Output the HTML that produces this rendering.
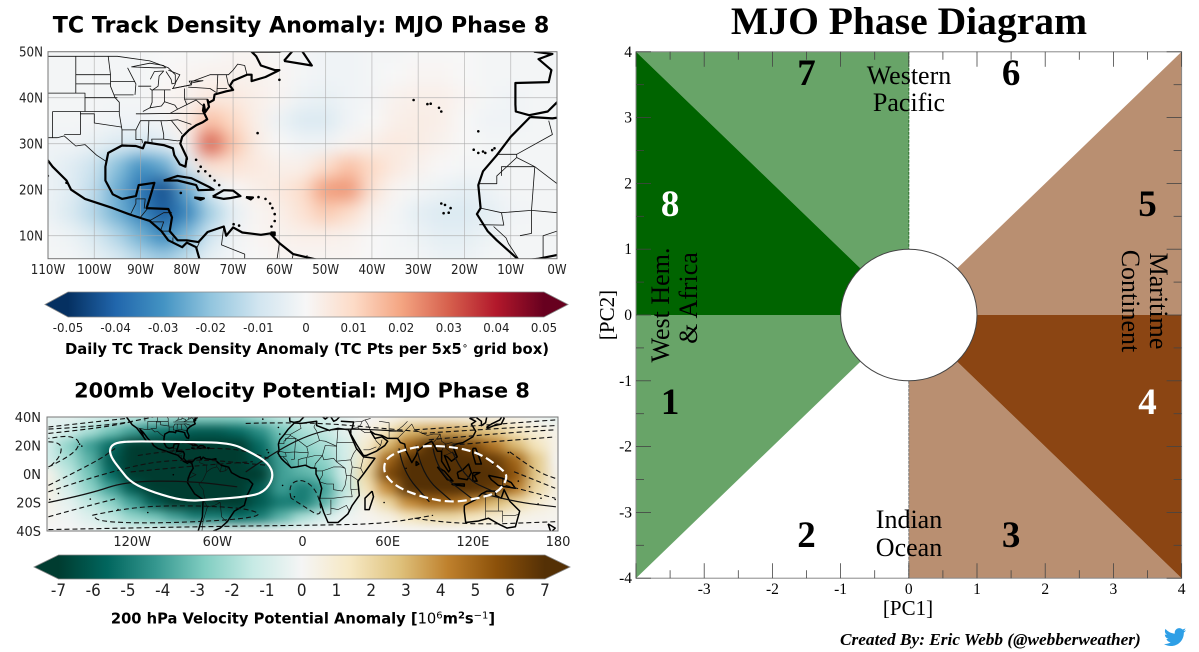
<!DOCTYPE html>
<html lang="en">
<head>
<meta charset="utf-8">
<title>MJO Phase 8 Composite</title>
<style>
html,body{margin:0;padding:0;background:#fff;}
svg{display:block;}
.dj{font-family:"DejaVu Sans",sans-serif;}
.sr{font-family:"Liberation Serif",serif;}
</style>
</head>
<body>
<svg id="figure" xmlns="http://www.w3.org/2000/svg" width="1199" height="652" viewBox="0 0 1199 652">
  <defs>
    <clipPath id="clip-tc"><rect x="48" y="51.7" width="509" height="207"/></clipPath>
    <clipPath id="clip-vp"><rect x="47" y="417" width="511" height="114"/></clipPath>
    <filter id="blur-tc" filterUnits="userSpaceOnUse" x="-100" y="-50" width="800" height="450" color-interpolation-filters="sRGB"><feGaussianBlur stdDeviation="9 8"/></filter>
    <filter id="blur-vp" filterUnits="userSpaceOnUse" x="-100" y="350" width="800" height="260" color-interpolation-filters="sRGB"><feGaussianBlur stdDeviation="7 5"/></filter>
    <linearGradient id="grad-tc" x1="0" x2="1" y1="0" y2="0"></linearGradient>
    <linearGradient id="grad-vp" x1="0" x2="1" y1="0" y2="0"></linearGradient>
  </defs>
  <rect width="1199" height="652" fill="#fff"/>

  <text class="dj" x="301" y="32.5" font-size="22.2" font-weight="700" text-anchor="middle">TC Track Density Anomaly: MJO Phase 8</text>
  <g id="tc-map"></g>
  <g id="tc-bar"></g>
  <text class="dj" x="307" y="354" font-size="14.8" font-weight="700" text-anchor="middle">Daily TC Track Density Anomaly (TC Pts per 5x5<tspan dy="-5" font-size="10" font-weight="400">∘</tspan><tspan dy="5"> grid box)</tspan></text>

  <text class="dj" x="302" y="397.5" font-size="20.8" font-weight="700" text-anchor="middle">200mb Velocity Potential: MJO Phase 8</text>
  <g id="vp-map"></g>
  <g id="vp-bar"></g>
  <text class="dj" x="303" y="623.5" font-size="14.7" font-weight="700" text-anchor="middle">200 hPa Velocity Potential Anomaly [<tspan font-weight="400">10</tspan><tspan dy="-5" font-size="10" font-weight="400">6</tspan><tspan dy="5">m</tspan><tspan dy="-5" font-size="10">2</tspan><tspan dy="5">s</tspan><tspan dy="-5" font-size="10" font-weight="400">−1</tspan><tspan dy="5">]</tspan></text>

  <text class="sr" x="909" y="34" font-size="39.6" font-weight="700" text-anchor="middle">MJO Phase Diagram</text>
  <g id="phase"></g>

  <g class="sr" font-size="26" text-anchor="middle" fill="#000">
    <text x="909" y="84">Western</text>
    <text x="909" y="111">Pacific</text>
    <text x="909" y="528">Indian</text>
    <text x="909" y="556">Ocean</text>
    <text transform="translate(669,305) rotate(-90)">West Hem.</text>
    <text transform="translate(697,298) rotate(-90)">&amp; Africa</text>
    <text transform="translate(1150,301) rotate(90)">Maritime</text>
    <text transform="translate(1122,301) rotate(90)">Continent</text>
  </g>
  <text class="sr" x="908" y="615" font-size="21" text-anchor="middle">[PC1]</text>
  <text class="sr" transform="translate(614,315) rotate(-90)" font-size="21" text-anchor="middle">[PC2]</text>
  <text class="sr" x="840" y="645" font-size="17.3" font-weight="700" font-style="italic">Created By: Eric Webb (@webberweather)</text>
  <path transform="translate(1164,626) scale(0.92)" fill="#2e9fe6" d="M23.954 4.569c-.885.389-1.83.654-2.825.775 1.014-.611 1.794-1.574 2.163-2.723-.951.555-2.005.959-3.127 1.184-.896-.959-2.173-1.559-3.591-1.559-2.717 0-4.92 2.203-4.92 4.917 0 .39.045.765.127 1.124C7.691 8.094 4.066 6.13 1.64 3.161c-.427.722-.666 1.561-.666 2.475 0 1.71.87 3.213 2.188 4.096-.807-.026-1.566-.248-2.228-.616v.061c0 2.385 1.693 4.374 3.946 4.827-.413.111-.849.171-1.296.171-.314 0-.615-.03-.916-.086.631 1.953 2.445 3.377 4.604 3.417-1.68 1.319-3.809 2.105-6.102 2.105-.39 0-.779-.023-1.17-.067 2.189 1.394 4.768 2.209 7.557 2.209 9.054 0 13.999-7.496 13.999-13.986 0-.209 0-.42-.015-.63.961-.689 1.8-1.56 2.46-2.548l-.047-.02z"/>
</svg>
<script>
/* ---------- TC track density data (values x 0.001) ---------- */
const tcLons = [-110,-105,-100,-95,-90,-85,-80,-75,-70,-65,-60,-55,-50,-45,-40,-35,-30,-25,-20,-15,-10,-5,0];
const tcLats = [50,45,40,35,30,25,20,15,10,5];
const tcValues = [
 [-1,-1,-1,-1,-1,0,0,0,1,1,0,-1,-2,-2,-1,-1,0,0,0,-1,-1,-1,-1],
 [-1,-1,-1,-1,-1,0,1,2,2,2,1,-1,-2,-2,-1,0,1,1,0,-1,-1,-1,-1],
 [-1,-1,-1,-1,-1,1,2,5,5,3,1,-3,-4,-2,-1,2,3,3,1,-1,-2,-1,-1],
 [-1,-1,-1,-2,-2,-1,4,15,10,3,-3,-7,-7,-2,0,3,4,3,0,-2,-2,-1,-1],
 [-2,-2,-4,-7,-9,-6,1,30,14,4,0,-2,-2,1,3,5,4,2,0,-1,-1,-1,-1],
 [-3,-6,-11,-21,-31,-26,-7,7,7,5,3,3,9,15,10,5,2,0,-1,-1,-1,-1,-1],
 [-3,-6,-13,-25,-36,-44,-26,-7,0,3,5,9,21,22,7,1,-1,-3,-5,-3,-1,-1,-1],
 [-3,-8,-15,-24,-33,-42,-33,-17,-5,1,3,7,13,9,2,-1,-5,-7,-7,-5,-2,-1,-1],
 [-1,-3,-8,-15,-24,-32,-22,-10,-2,1,2,3,3,2,0,-1,-3,-5,-5,-3,-1,-1,-1],
 [-1,-1,-4,-8,-14,-18,-12,-4,-1,0,1,1,1,1,0,-1,-1,-3,-3,-1,-1,-1,-1]
];
/* ---------- 200 hPa velocity potential data (10^6 m2/s) ---------- */
const vpLons = [-180,-165,-150,-135,-120,-105,-90,-75,-60,-45,-30,-15,0,15,30,45,60,75,90,105,120,135,150,165,180];
const vpLats = [40,30,20,10,0,-10,-20,-30,-40];
const vpValues = [
 [-0.5,-0.5,-0.8,-1,-1.5,-2,-2,-2.5,-2.5,-2.5,-2,-1.5,-1,-1,-0.5,0,0.2,0.5,0.5,0.5,0.5,0.5,0.3,-0.2,-0.5],
 [-0.5,-1,-2,-3,-4,-5,-5.5,-6,-6,-5.5,-4.5,-3,-2,-1.5,-0.5,0.5,1.5,3,3.5,3.5,3,2.5,1.5,0.8,0.3],
 [-1,-2.5,-4,-5.5,-7,-8,-8,-8,-8,-7,-5.5,-3.5,-2.5,-2,-1,1,3,5,7,7,6,4.5,3,1.5,0.3],
 [-1,-2,-3.5,-6,-8,-9,-9,-9,-9,-8,-6,-4,-3,-2.5,-1,1.5,5,8,9,9,8,6.5,5,2.5,0],
 [0.3,-1.5,-3,-5.5,-8,-9,-9,-9,-9,-8.5,-7,-4,-3.5,-3,-1,2,6,9,9,9,9,7.5,5.5,2.5,0.2],
 [0.5,-1,-2.5,-4,-6,-8,-9,-9,-9,-8,-6,-4,-5,-4,-1.5,1.5,4,7,9,9,8,6.5,4.5,2,0.5],
 [0.3,-0.5,-1.5,-2.5,-4,-6,-7,-8,-8,-7.5,-6,-5,-5,-3.5,-1,0.5,2,4,5,5,4,3,2,1,0.3],
 [0.2,-0.2,-0.8,-1.5,-2.5,-3,-4,-5,-5,-5.5,-5,-3.5,-2,-1,-0.3,0.2,0.5,1.5,2,2,1.5,1,0.5,0.3,0.2],
 [0,0,-0.2,-0.5,-0.5,-0.5,-0.5,-0.5,-0.5,-0.5,-0.3,-0.2,0,0,0,0,0,0,0,0,0,0,0,0,0]
];
/* ---------- contour levels traced in lon/lat ---------- */
const vpSolidContours = [
 [[-179,-20],[-150,-14],[-124,-5],[-78,-5],[-46,-9]],
 [[-40,1.4],[-16,18],[11,30],[30,32],[71,30]],
 [[68,18],[70.5,1.6],[89.4,-19.5]],
 [[80,20],[84,-0.8],[105.6,-19.5]],
 [[92,18],[95,1.6],[119,-17]],
 [[105.6,15.6],[113.7,-3],[135,-12.5]],
 [[127,-13.7],[149,-19.5],[178.5,-23]]
];
const vpDashedContours = [
 [[-179,33],[-124,39]],
 [[-179,31.5],[-135,34],[-105,40]],
 [[-179,28.5],[-145,32],[-120,36.6]],
 [[-179,22.6],[-170,22.6],[-170,13],[-179,4]],
 [[-179,5],[-162,13],[-156,22.6],[-164,27],[-179,25]],
 [[-179,-8],[-145,8.6],[-132,18]],
 [[-179,-12.5],[-124,6],[-78,11],[-24,6]],
 [[-116,13],[-83,18],[-46,18],[-24,11]],
 [[-121,1.5],[-73,6],[-35,8.6]],
 [[-148,-29],[-121,-23],[-78,-22],[-40,-24],[-27,-29],[-51,-32.4],[-105,-34.7],[-143,-33.5],[-148,-29]],
 [[-179,-30],[-150,-22],[-130,-17]],
 [[-179,-39],[-78,-37],[3,-36],[57,-35],[92,-29]],
 [[-8,-17],[-10.5,-8],[0,-3],[11,-12.5],[14,-31],[0,-22],[-8,-17]],
 [[-40,35.5],[3,36.6],[57,32],[84,29.6]],
 [[79,31],[125,34],[178,38]],
 [[84,28.5],[138,32],[178,34]],
 [[89,24],[138,28.5],[178,31]],
 [[105,20.3],[151,24],[178,26]],
 [[146,15.6],[165,1.6],[178,-3]],
 [[149,1.6],[178,-10]],
 [[143,-8],[178,-17]],
 [[79,-31],[111,-36],[178,-33.5]]
];
const vpNegativeCore = [[-136,18],[-132,22],[-119,23],[-86,22.5],[-51,22],[-37,15.5],[-24,8],[-20,-2],[-27,-13],[-40,-16],[-65,-18],[-83,-19],[-105,-13],[-121,-6],[-129,4],[-135,12]];
const vpPositiveCore = [[57,5],[60,12],[71,17],[87,20],[106,19],[124,15],[140,4],[145,-2],[138,-13],[124,-17],[106,-20],[87,-17],[68,-10],[59,-2]];

/* ---------- geography in lon/lat ---------- */
const coastlines = [
 [[-56,51.5],[-60,50],[-66,50],[-65,49],[-64,47],[-61,46],[-60,46],[-63,44.5],[-66,43.6],[-66,45],[-67,45],[-70,43.7],[-70.7,42.6],[-70,41.7],[-71.5,41.4],[-74,40.7],[-74.2,39.5],[-75.3,38.9],[-75.5,39.5],[-75.2,38],[-76,36.9],[-76.3,38.5],[-76.5,37.2],[-75.6,35.3],[-76.5,34.7],[-78,34],[-79.5,33],[-81,31.5],[-81.4,30],[-80,27],[-80.3,25],[-81.5,25.5],[-82.7,27.5],[-83,29],[-85,29.7],[-89,30.3],[-89.5,29],[-91,29.5],[-94,29.6],[-97,28],[-97.6,25],[-97.6,22],[-96,19],[-94,18],[-91,18.6],[-90.4,21],[-87,21.5],[-88,18.2],[-88.7,16],[-84,15.8],[-83.2,14],[-83.7,11],[-82,9],[-80,9],[-77.5,8.6],[-75.5,10.8],[-72,12],[-71.5,10],[-70,11.8],[-68,10.7],[-64,10.2],[-62,10.5],[-60,8.4],[-57,6],[-52,4.8],[-50,1],[-44,-2.3],[-38,-4],[-35,-7],[-39,-15],[-41,-22],[-48,-26],[-53,-33.5],[-58,-38],[-65,-41],[-68,-50]],
 [[-125,50],[-124,48],[-124,40],[-120,34.5],[-117,32.5],[-115,30],[-112,26],[-110,23],[-112,26],[-113,29],[-114.5,31.5],[-112,29],[-109,25],[-106,22],[-105,20],[-102,18],[-96,16],[-92,14.5],[-88,13.2],[-85.5,11],[-84,9],[-81,7.5],[-80,8.5],[-78,7.5],[-77,4],[-79,1],[-80.5,-3],[-81,-6],[-76,-14],[-70,-18],[-70.5,-30],[-73.5,-40],[-74,-50]],
 [[-59,48],[-56,51.5],[-53,47],[-59,48]],
 [[-5,50],[-1,49.5],[-4,48.4],[-1.2,46],[-1.8,43.4],[-9,43.2],[-9,38.5],[-8.9,37],[-6,36.2],[-2,37],[0,39],[3,42],[8,44],[12,42],[16,38.5],[18,40],[14,45],[20,40],[22,37],[24,38],[26,40],[29,41],[41,41]],
 [[-5.8,35.8],[-10,31.5],[-13,27.5],[-16,24],[-17,21],[-16.5,16],[-17.3,14.7],[-15,11],[-13,9],[-8,4.5],[-4,5],[2,6.2],[6,4.3],[9.5,4],[9.5,0],[12,-5],[13.5,-10],[12,-18],[15,-27],[18,-34],[25,-34],[32,-28],[35,-22],[40,-15],[39,-5],[43,0],[51,11],[43,12],[38,18],[34,27],[32.5,31],[25,32],[20,31],[19,30.5],[10,34],[10,37],[-1,35.5],[-5.8,35.8]],
 [[27,37],[36,36.5],[35,32],[34,31],[34,28],[38,21],[43,13],[45,13],[52,16],[58,20],[60,23],[56,26],[51,25],[48,30],[51,28],[56,27],[60,25],[67,25],[69,22],[72,21],[73,16],[77,8],[80,13],[81,16],[87,21],[91,23],[94,18],[95,16],[98,16],[98,9],[100,6],[103,1.5],[104,3],[100,13],[102,12],[105,9],[109,12],[106,19],[108,21],[113,22],[120,26],[122,30],[119,35],[122,37],[118,39],[122,40],[126,37],[126,34],[129,36],[130,41]],
 [[130,32],[135,34],[140,35],[142,39],[141,41],[139,38],[133,35],[130,33],[130,32]],
 [[120,18],[122,18],[124,13],[126,7],[122,7],[120,14],[120,18]],
 [[109,1],[113,3],[117,7],[119,1],[116,-4],[110,-3],[109,1]],
 [[95,5],[100,2],[106,-5],[102,-4],[95,5]],
 [[105,-7],[114,-7],[114,-8.5],[106,-7.5],[105,-7]],
 [[120,1],[125,1],[121,-1],[123,-5],[120,-5],[120,1]],
 [[131,-1],[141,-3],[147,-6],[150,-10],[143,-9],[138,-8],[133,-4],[131,-1]],
 [[114,-22],[122,-18],[126,-14],[130,-12],[136,-12],[136,-15],[140,-17],[142,-11],[146,-19],[153,-26],[150,-37],[144,-38],[138,-35],[131,-31],[124,-33],[115,-34],[114,-26],[114,-22]],
 [[173,-35],[178,-38],[175,-41],[173,-35]],
 [[49,-12],[50,-16],[47,-25],[44,-25],[44,-17],[49,-12]],
 [[80,9],[82,7],[80,6],[80,9]],
 [[-85,22],[-82,23],[-79,22.5],[-75,20.5],[-74.2,20],[-77.5,19.9],[-78,21],[-82,22],[-85,22]],
 [[-74.4,18.5],[-72,19.9],[-70,19.8],[-68.4,18.6],[-70.5,18.2],[-72,18],[-74.4,18.5]],
 [[-78.4,18.3],[-76.3,18.1],[-77,17.8],[-78.4,18.3]],
 [[-67.2,18.4],[-65.7,18.3],[-66.2,17.9],[-67.2,18.4]],
 [[-61.9,10.7],[-61,10.7],[-61,10.1],[-61.9,10.7]]
];
const borders = [
 [[-125,49],[-95,49],[-88,48],[-84,46.5],[-82.5,45],[-82.5,43],[-83,42],[-79,42.8],[-79,43.5],[-75,45],[-71,45],[-70,46],[-69,47.3],[-67.5,47],[-67,45]],
 [[-117,32.5],[-111,31.3],[-108,31.3],[-106.5,31.7],[-104,29.5],[-102,29.8],[-99.5,27.5],[-97.2,26]],
 [[-111,49],[-111,37]],[[-104,49],[-104,41]],[[-111,41],[-102,41],[-102,37]],[[-104,45],[-96.5,45]],[[-104,43],[-96.5,43]],
 [[-109,37],[-94.6,37]],[[-109,37],[-109,31.3]],[[-103,37],[-103,32],[-106.5,32]],[[-102,40],[-95,40]],[[-103,36.5],[-100,36.5],[-100,34.5],[-94,33.6]],
 [[-97,49],[-96.5,45],[-96.5,42.5],[-95.5,40],[-94.6,39],[-94.6,36.5],[-94,33],[-94,29.6]],
 [[-96.5,43.5],[-91.2,43.5]],[[-95.7,40.6],[-91.5,40.6]],[[-91.2,40.6],[-91,43],[-92.8,46.5]],[[-90.5,42.5],[-87.7,42.5]],
 [[-87.5,41.7],[-87.5,39],[-88,37.7]],[[-84.8,41.7],[-84.8,39.1]],[[-87.5,41.7],[-83.5,41.7]],[[-80.5,42],[-80.5,39.7],[-75.5,39.7]],
 [[-91,36.5],[-89.5,36.5],[-82,36.6],[-76,36.5]],[[-94,33],[-91,33],[-91,30.9],[-89.7,30.9],[-89.6,30.2]],[[-91,33],[-90,35],[-88,35],[-84.3,35],[-82,35.2],[-79,34.2]],
 [[-88.2,35],[-88.4,30.3]],[[-85.6,35],[-85,32],[-85,31],[-87.6,31],[-87.5,30.3]],[[-85,31],[-82,30.6],[-81.5,30.7]],[[-83.3,35],[-81,32.1]],
 [[-89.5,37],[-88,37.8],[-85.5,38.2],[-84.8,39.1],[-82.6,38.4],[-82,37.5],[-80,38.5],[-80.5,39.7]],[[-82,37.5],[-83.6,36.6]],[[-80,38.5],[-78,39.5],[-77,38.6],[-76,37.9]],
 [[-79.7,42.3],[-75,42],[-73.6,41.1]],[[-73.5,41.1],[-73.3,45]],[[-71.5,45],[-71,42.7]],[[-73.5,42],[-71.3,42]],
 [[-88,42],[-87.5,41.6],[-86.2,42.5],[-86,44.7],[-85,45.8],[-87,45.7],[-87.9,44]],[[-92,46.7],[-88,47.5],[-85,47],[-84.6,46.5],[-87,46.5],[-92,46.7]],
 [[-84.5,45.7],[-83.4,44],[-83.2,43],[-82.5,43.2],[-81.5,45],[-84,46]],[[-83.2,42],[-79,42.8],[-79.5,43.6],[-76.5,43.7],[-79,43.2]],
 [[-92.2,14.6],[-91,17],[-91,18],[-89,18],[-89.2,15.9]],[[-92.2,14.6],[-90,14],[-88.5,15.9]],[[-90,13.8],[-87.8,13.4],[-85,15],[-83.2,15]],[[-87.8,13],[-85,13],[-85.7,11],[-83.7,11]],[[-83,8.5],[-83,9.6]],
 [[-77.3,8.5],[-77.9,7.2]],[[-72,12],[-72.5,8],[-67.5,6],[-67.5,1.5],[-70,-4],[-73,-7],[-70,-11],[-69,-17],[-58,-20],[-57,-30],[-53.5,-33.5]],[[-60,8.4],[-60.5,5],[-64,4],[-67.5,1.5]],[[-57,6],[-58,1.5]],[[-54,5.8],[-54.5,2.5]],[[-52,4.5],[-54,2.3],[-58,1.5],[-60,5]],
 [[-70,-18],[-69,-17]],[[-70,-18],[-67,-23],[-70,-33],[-72,-50]],[[-80,-3],[-75,-0.5],[-79,1.3]],[[-62,-22],[-58,-20]],[[-67,-23],[-62,-22]],
 [[-17,21.3],[-13,21.3],[-13,23],[-8.7,27],[-8.7,27.7],[-13,27.7]],[[-8.7,27],[-4.8,25],[-12,25],[-12,23]],[[-4.8,25],[-5.5,15.5],[-12,15],[-16.5,16]],
 [[-12,15],[-11.5,12.3],[-16.8,12.4]],[[-13.7,12],[-11,9.5],[-10.5,8.3],[-8,4.5]],[[-5.5,15.5],[-5.5,10.5],[-8,10]],[[-3,5],[-3,10],[0,11],[3,11.5],[2.8,6.3]],
 [[-1.8,35],[-1,32],[-8.7,27.7]],[[-4.8,25],[3,19],[12,23.5],[10,30],[8,33],[10,37]],[[3,19],[4,15],[0,15],[-5.5,15.5]],[[4,15],[3.6,11.7],[9,13],[14,13],[16,20],[24,19.5],[25,32]],
 [[12,23.5],[16,23],[24,19.5]],[[14,13],[9,7],[8.5,4.5]],[[14,13],[15,10],[22,11],[24,8.5],[30,4],[31,-2],[30,-8],[28,-12],[22,-11],[22,-7],[17,-7],[13,-5.8]],
 [[24,19.5],[24,9]],[[24,22],[36.5,22]],[[24,9],[34,10],[36,14.5],[38.5,18]],[[34,10],[35,5],[41,4],[43,12]],[[35,5],[34,-1],[40,-5]],[[43,0],[41,4]],[[34,-1],[31,-1]],[[34,-1],[34,-10],[35,-16],[30,-16],[22,-17],[12,-17]],
 [[40,-10.5],[34,-11]],[[20,-18],[20,-28],[17,-28.5]],[[20,-24],[25,-25],[31,-22],[33,-26]],[[9,2.2],[14,2.2],[18,3.5],[22,5],[27,5],[30,4]],[[14,2.2],[14,-1],[12,-4.5]],
 [[35,32],[39,32.5],[44,29],[48,29]],[[36,36.5],[42,37],[44,38],[48,39]],[[42,37],[41,34.5],[39,32.5]],[[52,16],[55,20],[52,23],[51,25]],[[55,20],[56,24]],[[43,17],[47,17],[52,19]],
 [[48,30],[46,35],[44,38]],[[61,25],[61,30],[61,36],[54,37]],[[61,30],[66,30],[71,34],[74,37]],[[67,25],[70,28],[74,32],[77,35],[79,31],[88,27],[92,28],[97,28],[94,24],[92,22]],[[97,28],[98,23],[101,21],[100,20],[98,16]],[[101,21],[105,22],[108,21]],[[100,13],[105,15],[107,14],[109,12]],[[105,15],[101,18],[101,21]],
 [[129,-15],[129,-31.5]],[[129,-26],[141,-26],[141,-34]],[[138,-16.5],[138,-26]],[[141,-29],[150,-29],[153,-28]],[[141,-3],[141,-9]]
];
const tcIslands = [[-31,39.5],[-28,38.6],[-27.3,38.7],[-25.5,37.8],[-25,37],[-17,32.7],[-18,28.7],[-17,28],[-16,28.3],[-15.5,28],[-14,28.6],[-13.5,29],[-25,17],[-24.2,16.7],[-23,16],[-23.4,15],[-24.5,14.9],[-64.7,32.3],[-60,43.9],[-78,26.5],[-77,25],[-76,24],[-75,23],[-74,22],[-73,21],[-61.5,16],[-61,14.7],[-61,13.2],[-61.7,12],[-62,17],[-63,18],[-64.5,18.4],[-68.7,12.2],[-69.9,12.5],[-81.3,19.3],[-106,21.5],[-80,26.7],[-77.5,24]];
const vpIslands = [[-157,21],[-155.5,19.6],[-149.5,-17.6],[-172,-13.6],[-178,-17.8],[178,-17.8],[166,-21],[160,-9],[168,-17],[152,-5],[145,15],[134,7],[73,4],[57.5,-20],[-16,28],[-25,17],[-24,15],[-28,38.5],[-17,32.7],[-91,-0.5],[-59,-52],[-14,-8],[-5.7,-16],[137,35],[-130,-25],[-109,-27]];

/* ---------- tick labels and colorbar stops ---------- */
const tcLonTicks = [-110,-100,-90,-80,-70,-60,-50,-40,-30,-20,-10,0];
const tcLonLabels = ['110W','100W','90W','80W','70W','60W','50W','40W','30W','20W','10W','0W'];
const tcLatTicks = [50,40,30,20,10];
const tcLatLabels = ['50N','40N','30N','20N','10N'];
const vpLonTicks = [-120,-60,0,60,120,180];
const vpLonLabels = ['120W','60W','0','60E','120E','180'];
const vpLatTicks = [40,20,0,-20,-40];
const vpLatLabels = ['40N','20N','0N','20S','40S'];
const tcBarTicks = [-0.05,-0.04,-0.03,-0.02,-0.01,0,0.01,0.02,0.03,0.04,0.05];
const tcBarLabels = ['-0.05','-0.04','-0.03','-0.02','-0.01','0','0.01','0.02','0.03','0.04','0.05'];
const vpBarTicks = [-7,-6,-5,-4,-3,-2,-1,0,1,2,3,4,5,6,7];
const tcColors = ['#053061','#2166ac','#4393c3','#92c5de','#d1e5f0','#f7f7f7','#fddbc7','#f4a582','#d6604d','#b2182b','#67001f'];
const vpColors = ['#003c30','#01665e','#35978f','#80cdc1','#c7eae5','#f5f5f5','#f6e8c3','#dfc27d','#bf812d','#8c510a','#543005'];

/* ---------- phase diagram data, in PC units ---------- */
const phaseLight = [[[-4,4],[0,4],[0,0]],[[-4,0],[-4,-4],[0,0]]];
const phaseDark = [[[-4,4],[-4,0],[0,0]]];
const phaseLightBrown = [[[0,0],[0,-4],[4,-4]],[[0,0],[4,0],[4,4]]];
const phaseDarkBrown = [[[0,0],[4,-4],[4,0]]];
const pcMajorTicks = [-4,-3,-2,-1,0,1,2,3,4];
const pcXLabelTicks = [-3,-2,-1,0,1,2,3,4];
const pcMinorTicks = [-3.5,-2.5,-1.5,-0.5,0.5,1.5,2.5,3.5];
const phaseNumbers = ['1','2','3','4','5','6','7','8'];
const phaseNumberX = [-3.5,-1.5,1.5,3.5,3.5,1.5,-1.5,-3.5];
const phaseNumberY = [-1.32,-3.34,-3.34,-1.32,1.69,3.68,3.68,1.69];

/* ---------- scales ---------- */
const SVGNS = 'http://www.w3.org/2000/svg';
const tcX = lon => 48 + (lon + 110) * 509 / 110;
const tcY = lat => 51.7 + (50 - lat) * 4.6;
const vpX = lon => 47 + (lon + 180) * 511 / 360;
const vpY = lat => 474 - lat * 1.425;
const tcBarX = v => 68 + (v + 0.05) * 476 / 0.1;
const vpBarX = v => 58.5 + (v + 7) * 486.5 / 14;
const pcX = v => 908.8 + v * 68.2;
const pcY = v => 315 - v * 65.8;

function make(tag, attrs, parent, text) {
  const el = document.createElementNS(SVGNS, tag);
  for (const k in attrs) el.setAttribute(k, attrs[k]);
  if (text !== undefined) el.textContent = text;
  parent.appendChild(el);
  return el;
}
function lerpColor(stops, t) {
  t = Math.max(0, Math.min(1, t));
  const p = t * (stops.length - 1);
  const i = Math.min(stops.length - 2, Math.floor(p));
  const f = p - i;
  const a = stops[i], b = stops[i + 1];
  const ch = (c, s) => parseInt(c.substr(s, 2), 16);
  const m = s => Math.round(ch(a, s) + (ch(b, s) - ch(a, s)) * f);
  return 'rgb(' + m(1) + ',' + m(3) + ',' + m(5) + ')';
}
function smoothPath(pts, xf, yf, closed) {
  const P = pts.map(p => [xf(p[0]), yf(p[1])]);
  if (closed) {
    const n = P.length;
    const mid = (a, b) => [(a[0] + b[0]) / 2, (a[1] + b[1]) / 2];
    const start = mid(P[n - 1], P[0]);
    let d = 'M' + start[0].toFixed(1) + ' ' + start[1].toFixed(1);
    for (let i = 0; i < n; i++) {
      const e = mid(P[i], P[(i + 1) % n]);
      d += 'Q' + P[i][0].toFixed(1) + ' ' + P[i][1].toFixed(1) + ' ' + e[0].toFixed(1) + ' ' + e[1].toFixed(1);
    }
    return d + 'Z';
  }
  let d = 'M' + P[0][0].toFixed(1) + ' ' + P[0][1].toFixed(1);
  for (let i = 1; i < P.length - 1; i++) {
    const ex = (P[i][0] + P[i + 1][0]) / 2, ey = (P[i][1] + P[i + 1][1]) / 2;
    d += 'Q' + P[i][0].toFixed(1) + ' ' + P[i][1].toFixed(1) + ' ' + ex.toFixed(1) + ' ' + ey.toFixed(1);
  }
  const last = P[P.length - 1];
  d += 'L' + last[0].toFixed(1) + ' ' + last[1].toFixed(1);
  return d;
}
function linePath(pts, xf, yf) {
  return pts.map((p, i) => (i ? 'L' : 'M') + xf(p[0]).toFixed(1) + ' ' + yf(p[1]).toFixed(1)).join('');
}

function drawHeat(parent, lons, lats, values, xf, yf, colors, domain, filterId, label) {
  const g = make('g', { filter: 'url(#' + filterId + ')' }, parent);
  
  
  lats.forEach((lat, r) => {
    lons.forEach((lon, c) => {
      const xl = c === 0 ? xf(lon) - 60 : (xf(lons[c - 1]) + xf(lon)) / 2;
      const xr = c === lons.length - 1 ? xf(lon) + 60 : (xf(lon) + xf(lons[c + 1])) / 2;
      const yt = r === 0 ? yf(lat) - 60 : (yf(lats[r - 1]) + yf(lat)) / 2;
      const yb = r === lats.length - 1 ? yf(lat) + 60 : (yf(lat) + yf(lats[r + 1])) / 2;
      const cell = make('rect', {
        x: xl.toFixed(2), y: yt.toFixed(2),
        width: (xr - xl + 0.6).toFixed(2), height: (yb - yt + 0.6).toFixed(2),
        fill: lerpColor(colors, (values[r][c] + domain) / (2 * domain))
      }, g);
      
      
    });
  });
}
function drawGeo(parent, xf, yf, coastWidth, borderWidth, islands, islandR, label) {
  borders.forEach(b => {
    const el = make('path', { d: linePath(b, xf, yf), fill: 'none', stroke: '#111', 'stroke-width': borderWidth, 'stroke-linejoin': 'round' }, parent);
    
    
  });
  coastlines.forEach(cst => {
    const el = make('path', { d: linePath(cst, xf, yf), fill: 'none', stroke: '#000', 'stroke-width': coastWidth, 'stroke-linejoin': 'round' }, parent);
    
    
  });
  islands.forEach(p => {
    const el = make('circle', { cx: xf(p[0]).toFixed(1), cy: yf(p[1]).toFixed(1), r: islandR, fill: '#000' }, parent);
    
    
  });
}
function drawColorbar(parent, gradId, stops, x0, x1, tipL, tipR, y0, y1) {
  const grad = document.getElementById(gradId);
  stops.forEach((c, i) => {
    const s = make('stop', { offset: (i / (stops.length - 1)).toFixed(3), 'stop-color': c }, grad);
    
    
  });
  const ym = (y0 + y1) / 2;
  const left = make('polygon', { points: tipL + ',' + ym + ' ' + x0 + ',' + y0 + ' ' + x0 + ',' + y1, fill: stops[0] }, parent);
  
  
  const right = make('polygon', { points: tipR + ',' + ym + ' ' + x1 + ',' + y0 + ' ' + x1 + ',' + y1, fill: stops[stops.length - 1] }, parent);
  
  
  const body = make('rect', { x: x0, y: y0, width: x1 - x0, height: y1 - y0, fill: 'url(#' + gradId + ')' }, parent);
  
  
  const top = make('path', { d: 'M' + tipL + ' ' + ym + 'L' + x0 + ' ' + y0 + 'H' + x1 + 'L' + tipR + ' ' + ym + 'L' + x1 + ' ' + y1 + 'H' + x0 + 'Z', fill: 'none', stroke: '#888', 'stroke-width': 0.8 }, parent);
  
  
}

/* ---------- TC map ---------- */
(function () {
  const root = document.getElementById('tc-map');
  const bg = make('rect', { x: 48, y: 51.7, width: 509, height: 207, fill: '#f5f6f8' }, root);
  
  
  const clip = make('g', { 'clip-path': 'url(#clip-tc)' }, root);
  
  
  drawHeat(clip, tcLons, tcLats, tcValues, tcX, tcY, tcColors, 50, 'blur-tc', 'tc');
  tcLonTicks.forEach(v => {
    const l = make('line', { x1: tcX(v), x2: tcX(v), y1: 51.7, y2: 258.7, stroke: '#aaa', 'stroke-width': 0.8, opacity: 0.7 }, clip);
    
    
  });
  tcLatTicks.forEach(v => {
    const l = make('line', { x1: 48, x2: 557, y1: tcY(v), y2: tcY(v), stroke: '#aaa', 'stroke-width': 0.8, opacity: 0.7 }, clip);
    
    
  });
  drawGeo(clip, tcX, tcY, 2.2, 0.8, tcIslands, 1.3, 'tc');
  const frame = make('rect', { x: 48, y: 51.7, width: 509, height: 207, fill: 'none', stroke: '#777', 'stroke-width': 1 }, root);
  
  
  tcLonTicks.forEach((v, i) => {
    const t = make('text', { transform: 'translate(' + tcX(v) + ' 274) scale(0.9 1)', 'font-size': 13.2, 'text-anchor': 'middle', class: 'dj', fill: '#222' }, root, tcLonLabels[i]);
    
    
  });
  tcLatTicks.forEach((v, i) => {
    const t = make('text', { transform: 'translate(43 ' + (tcY(v) + 5) + ') scale(0.9 1)', 'font-size': 13.2, 'text-anchor': 'end', class: 'dj', fill: '#222' }, root, tcLatLabels[i]);
    
    
  });
  const bar = document.getElementById('tc-bar');
  drawColorbar(bar, 'grad-tc', tcColors, 68, 544, 45, 568, 292, 317);
  tcBarTicks.forEach((v, i) => {
    const t = make('text', { transform: 'translate(' + tcBarX(v) + ' 332) scale(0.92 1)', 'font-size': 12.8, 'text-anchor': 'middle', class: 'dj', fill: '#222' }, bar, tcBarLabels[i]);
    
    
  });
})();

/* ---------- velocity potential map ---------- */
(function () {
  const root = document.getElementById('vp-map');
  const clip = make('g', { 'clip-path': 'url(#clip-vp)' }, root);
  
  
  drawHeat(clip, vpLons, vpLats, vpValues, vpX, vpY, vpColors, 7, 'blur-vp', 'vp');
  drawGeo(clip, vpX, vpY, 1.5, 0.6, vpIslands, 0.8, 'vp');
  vpSolidContours.forEach(c => {
    const el = make('path', { d: smoothPath(c, vpX, vpY, false), fill: 'none', stroke: '#111', 'stroke-width': 1.2 }, clip);
    
    
  });
  vpDashedContours.forEach(c => {
    const el = make('path', { d: smoothPath(c, vpX, vpY, false), fill: 'none', stroke: '#111', 'stroke-width': 1.1, 'stroke-dasharray': '5 3' }, clip);
    
    
  });
  const neg = make('path', { d: smoothPath(vpNegativeCore, vpX, vpY, true), fill: 'none', stroke: '#fff', 'stroke-width': 2.2 }, clip);
  
  
  const pos = make('path', { d: smoothPath(vpPositiveCore, vpX, vpY, true), fill: 'none', stroke: '#fff', 'stroke-width': 2.2, 'stroke-dasharray': '9 4' }, clip);
  
  
  const frame = make('rect', { x: 47, y: 417, width: 511, height: 114, fill: 'none', stroke: '#777', 'stroke-width': 1 }, root);
  
  
  vpLonTicks.forEach((v, i) => {
    const t = make('text', { x: vpX(v), y: 546, 'font-size': 13, 'text-anchor': 'middle', class: 'dj', fill: '#222' }, root, vpLonLabels[i]);
    
    
  });
  vpLatTicks.forEach((v, i) => {
    const t = make('text', { x: 41, y: vpY(v) + 5, 'font-size': 13, 'text-anchor': 'end', class: 'dj', fill: '#222' }, root, vpLatLabels[i]);
    
    
  });
  const bar = document.getElementById('vp-bar');
  drawColorbar(bar, 'grad-vp', vpColors, 58.5, 545, 34, 570, 555, 579);
  vpBarTicks.forEach(v => {
    const t = make('text', { transform: 'translate(' + vpBarX(v) + ' 596) scale(0.92 1)', 'font-size': 16.5, 'text-anchor': 'middle', class: 'dj', fill: '#222' }, bar, String(v));
    
    
  });
})();

/* ---------- phase diagram ---------- */
(function () {
  const root = document.getElementById('phase');
  function sectors(list, fill, label) {
    list.forEach(poly => {
      const el = make('polygon', { points: poly.map(p => pcX(p[0]).toFixed(1) + ',' + pcY(p[1]).toFixed(1)).join(' '), fill: fill }, root);
      
      
    });
  }
  sectors(phaseLight, '#68a468', 'phase-sector-light-green');
  sectors(phaseDark, '#006400', 'phase-sector-dark-green');
  sectors(phaseLightBrown, '#b98f71', 'phase-sector-light-brown');
  sectors(phaseDarkBrown, '#8b4513', 'phase-sector-dark-brown');
  const up = make('line', { x1: pcX(0), x2: pcX(0), y1: pcY(4), y2: pcY(1), stroke: '#2c6e2c', 'stroke-width': 1, 'stroke-dasharray': '3 1' }, root);
  
  
  const down = make('line', { x1: pcX(0), x2: pcX(0), y1: pcY(-1), y2: pcY(-4), stroke: '#777', 'stroke-width': 1, 'stroke-dasharray': '3 1' }, root);
  
  
  const circle = make('ellipse', { cx: pcX(0), cy: pcY(0), rx: pcX(1) - pcX(0), ry: pcY(0) - pcY(1), fill: '#fff', stroke: '#444', 'stroke-width': 1 }, root);
  
  
  const frame = make('rect', { x: pcX(-4), y: pcY(4), width: pcX(4) - pcX(-4), height: pcY(-4) - pcY(4), fill: 'none', stroke: '#888', 'stroke-width': 1 }, root);
  
  
  function tick(v, len) {
    const parts = [
      [pcX(v), pcY(-4), pcX(v), pcY(-4) - len],
      [pcX(v), pcY(4), pcX(v), pcY(4) + len],
      [pcX(-4), pcY(v), pcX(-4) + len, pcY(v)],
      [pcX(4), pcY(v), pcX(4) - len, pcY(v)]
    ];
    parts.forEach(q => {
      const l = make('line', { x1: q[0], y1: q[1], x2: q[2], y2: q[3], stroke: '#444', 'stroke-width': 0.8 }, root);
      
      
    });
  }
  pcMajorTicks.forEach(v => tick(v, 15));
  pcMinorTicks.forEach(v => tick(v, 8));
  pcXLabelTicks.forEach(v => {
    const t = make('text', { x: pcX(v), y: 594, 'font-size': 15.5, 'text-anchor': 'middle', class: 'sr' }, root, String(v));
    
    
  });
  pcMajorTicks.forEach(v => {
    const y = make('text', { x: 632, y: pcY(v) + 5, 'font-size': 15.5, 'text-anchor': 'end', class: 'sr' }, root, String(v));
    
    
  });
  phaseNumbers.forEach((label, i) => {
    const white = label === '8' || label === '4';
    const t = make('text', { x: pcX(phaseNumberX[i]), y: pcY(phaseNumberY[i]) + 12, 'font-size': 37, 'font-weight': 700, 'text-anchor': 'middle', class: 'sr', fill: white ? '#fff' : '#000' }, root, label);
    
    
  });
})();
</script>
</body>
</html>
